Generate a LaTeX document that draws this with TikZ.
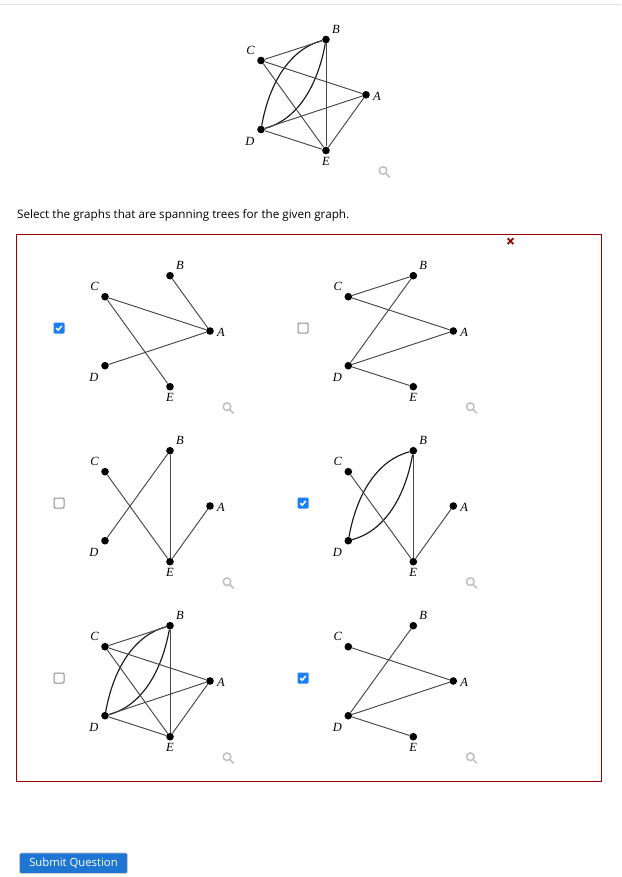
\documentclass[tikz,border=0pt]{standalone}
\usepackage{fontspec}
\setmainfont{Open Sans}
\newfontfamily\mathlike[Ligatures=TeX]{Liberation Serif}
\definecolor{boxred}{HTML}{990000}
\definecolor{btnblue}{HTML}{1F76D2}
\definecolor{chkblue}{HTML}{1A7EF7}
\tikzset{
  vert/.style={circle,fill=black,inner sep=0pt,minimum size=7.6pt},
  vlabel/.style={inner sep=0pt,font=\mathlike\itshape\fontsize{12.5}{12.5}\selectfont},
  edge/.style={draw=black!72,line width=0.95pt},
  arc/.style={draw=black!90,line width=1.15pt},
  lens/.style={draw=black!25,line width=1.5pt},
  chkoff/.style={draw=black!45,line width=1pt,rounded corners=1.2pt,fill=white,minimum size=10pt,inner sep=0pt},
  chkon/.style={fill=chkblue,rounded corners=1.2pt,minimum size=11pt,inner sep=0pt},
  tick/.style={draw=white,line width=1.5pt},
}
% vertices, labels and magnifier of one graph; #1 name prefix, (#2,#3) position of B
\newcommand{\gverts}[3]{
  \node[vert] (#1B) at (#2,#3) {};
  \node[vert] (#1C) at (#2-65,#3+21) {};
  \node[vert] (#1A) at (#2+40,#3+55.3) {};
  \node[vert] (#1D) at (#2-65,#3+90) {};
  \node[vert] (#1E) at (#2,#3+111) {};
  \node[vlabel] (#1lB) at (#2+10,#3-10) {B};
  \node[vlabel] (#1lC) at (#2-75.5,#3+11) {C};
  \node[vlabel] (#1lA) at (#2+51,#3+56.5) {A};
  \node[vlabel] (#1lD) at (#2-76,#3+101.5) {D};
  \node[vlabel] (#1lE) at (#2,#3+122) {E};
  \draw[lens] (#2+57,#3+131) circle (3.8pt);
  \draw[lens,line cap=round] (#2+59.8,#3+133.8) -- (#2+63.5,#3+137.5);
}
\newcommand{\gcurves}[1]{
  \draw[arc] (#1D.80) .. controls ($(#1D)+(9,-50)$) and ($(#1B)+(-34,9)$) .. (#1B.195);
  \draw[arc] (#1D.15) .. controls ($(#1D)+(34,-9)$) and ($(#1B)+(-9,50)$) .. (#1B.260);
}
\newcommand{\glines}[2]{\foreach \u/\v in {#2}{\draw[edge] (#1\u) -- (#1\v);}}
\newcommand{\cbox}[3]{\node[chkoff] (#1) at (#2,#3) {};}
\newcommand{\cboxon}[3]{\node[chkon] (#1) at (#2,#3) {};
  \draw[tick] (#2-2.8,#3+0.2) -- (#2-0.8,#3+2.2) -- (#2+2.8,#3-2.2);}
\usetikzlibrary{calc}
\begin{document}
\begin{tikzpicture}[x=1pt,y=-1pt]
\useasboundingbox (0,0) rectangle (621,877);
\fill[white] (0,0) rectangle (621,877);
\draw[black!12,line width=1pt] (0,5) -- (621,5);

% given graph
\gverts{g}{326}{39.5}
\gcurves{g}
\glines{g}{B/C,C/A,C/E,B/E,D/A,D/E,A/E}

\node[anchor=west,inner sep=0pt,font=\fontsize{11.68}{13}\selectfont] (prompt) at (17,215) {Select the graphs that are spanning trees for the given graph.};

\draw[boxred,line width=1pt] (16.5,234.5) rectangle (601,781);
\draw[boxred,line width=1.7pt] (507.6,238.2) -- (513.4,244);
\draw[boxred,line width=1.7pt] (513.4,238.2) -- (507.6,244);

% option 1
\cboxon{c1}{59}{328}
\gverts{a}{170}{275.7}
\glines{a}{B/A,C/A,C/E,D/A}
% option 2
\cbox{c2}{303}{328}
\gverts{b}{413.3}{275.7}
\glines{b}{C/B,C/A,D/B,D/A,D/E}
% option 3
\cbox{c3}{59}{503}
\gverts{h}{170}{450.7}
\glines{h}{C/E,D/B,B/E,A/E}
% option 4
\cboxon{c4}{303}{503}
\gverts{j}{413.3}{450.7}
\gcurves{j}
\glines{j}{C/E,B/E,A/E}
% option 5
\cbox{c5}{59}{678}
\gverts{k}{170}{625.7}
\gcurves{k}
\glines{k}{B/C,C/A,C/E,B/E,D/A,D/E,A/E}
% option 6
\cboxon{c6}{303}{678}
\gverts{m}{413.3}{625.7}
\glines{m}{C/A,D/B,D/A,D/E}

% button
\node[fill=btnblue,draw=black!20,line width=0.6pt,rounded corners=2pt,minimum width=108pt,minimum height=20.5pt,inner sep=0pt,text=white,font=\fontsize{11.3}{12}\selectfont] (submit) at (73.5,863.2) {\raisebox{-0.8pt}{Submit Question}};
\end{tikzpicture}
\end{document}
